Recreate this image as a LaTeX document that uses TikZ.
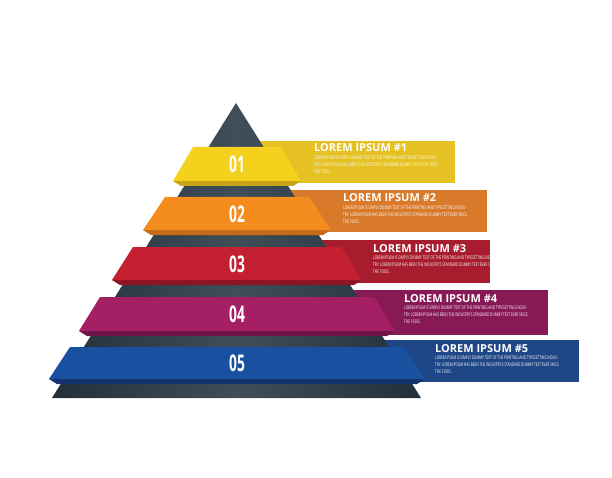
\documentclass[tikz,border=0pt]{standalone}
\usepackage{fontspec}
\usepackage{graphicx}
\setmainfont{Open Sans}
\usepackage{tikz}

\definecolor{yelface}{RGB}{243,209,28}
\definecolor{yellabel}{RGB}{229,193,35}
\definecolor{yelfold}{RGB}{200,165,20}
\definecolor{orgface}{RGB}{245,141,30}
\definecolor{orglabel}{RGB}{217,122,43}
\definecolor{orgfold}{RGB}{196,108,24}
\definecolor{redface}{RGB}{197,31,50}
\definecolor{redlabel}{RGB}{168,29,46}
\definecolor{redfold}{RGB}{140,20,35}
\definecolor{magface}{RGB}{165,31,100}
\definecolor{maglabel}{RGB}{135,26,85}
\definecolor{magfold}{RGB}{110,20,70}
\definecolor{bluface}{RGB}{26,80,160}
\definecolor{blulabel}{RGB}{31,70,135}
\definecolor{blufold}{RGB}{20,50,110}
\definecolor{pyrdark}{RGB}{34,48,60}
\definecolor{pyrlight}{RGB}{64,78,88}

\newcommand{\dummytext}{\scalebox{0.63}[1]{\begin{tabular}{@{}l@{}}LOREM IPSUM IS SIMPLY DUMMY TEXT OF THE PRINTING AND TYPESETTING INDUS-\\TRY. LOREM IPSUM HAS BEEN THE INDUSTRY'S STANDARD DUMMY TEXT EVER SINCE\\THE 1500S.\end{tabular}}}
\newcommand{\bandnum}[1]{\scalebox{0.6}[1]{#1}}

\begin{document}
\begin{tikzpicture}[x=1pt,y=-1pt,
    title/.style={anchor=base west,inner sep=0pt,text=white,font=\bfseries\fontsize{11}{13}\selectfont},
    blurb/.style={anchor=north west,inner sep=0pt,text=white,font=\fontsize{5}{6.6}\selectfont},
    num/.style={inner sep=0pt,text=white,font=\bfseries\fontsize{23}{23}\selectfont}]
    \useasboundingbox[fill=white] (0,0) rectangle (612,478);
        \fill[yellabel] (250,141) rectangle (455,183);
        \fill[orglabel] (250,190) rectangle (487,232);
        \fill[redlabel] (250,240) rectangle (490,283);
        \fill[maglabel] (250,290) rectangle (548,335);
        \fill[blulabel] (250,340) rectangle (579,382);
        \shade[left color=pyrdark,right color=pyrdark,middle color=pyrlight] (236,103) -- (421,398) -- (52,398) -- cycle;
        \fill[yelfold] (173,181) -- (301,181) -- (293,186) -- (181,186) -- cycle;
        \fill[yelface] (193,147) -- (281,147) -- (301,181) -- (173,181) -- cycle;
        \fill[orgfold] (143,230) -- (331,230) -- (323,235) -- (151,235) -- cycle;
        \fill[orgface] (165,197) -- (309,197) -- (331,230) -- (143,230) -- cycle;
        \fill[redfold] (112,280) -- (362,280) -- (354,285) -- (120,285) -- cycle;
        \fill[redface] (133,247) -- (341,247) -- (362,280) -- (112,280) -- cycle;
        \fill[magfold] (79,331) -- (395,331) -- (387,336) -- (87,336) -- cycle;
        \fill[magface] (100,297) -- (374,297) -- (395,331) -- (79,331) -- cycle;
        \fill[blufold] (49,379) -- (425,379) -- (417,384) -- (57,384) -- cycle;
        \fill[bluface] (70,347) -- (404,347) -- (425,379) -- (49,379) -- cycle;
        \node[num] (n1) at (237,164) {\bandnum{01}};
        \node[num] (n2) at (237,214) {\bandnum{02}};
        \node[num] (n3) at (237,264) {\bandnum{03}};
        \node[num] (n4) at (237,314) {\bandnum{04}};
        \node[num] (n5) at (237,363) {\bandnum{05}};
        \node[title] (t1) at (314,152) {LOREM IPSUM \#1};
        \node[blurb] (b1) at (314,155) {\dummytext};
        \node[title] (t2) at (343,202) {LOREM IPSUM \#2};
        \node[blurb] (b2) at (343,205) {\dummytext};
        \node[title] (t3) at (373,252) {LOREM IPSUM \#3};
        \node[blurb] (b3) at (373,255) {\dummytext};
        \node[title] (t4) at (404,302) {LOREM IPSUM \#4};
        \node[blurb] (b4) at (404,305) {\dummytext};
        \node[title] (t5) at (435,352) {LOREM IPSUM \#5};
        \node[blurb] (b5) at (435,355) {\dummytext};
    \end{tikzpicture}
\end{document}
